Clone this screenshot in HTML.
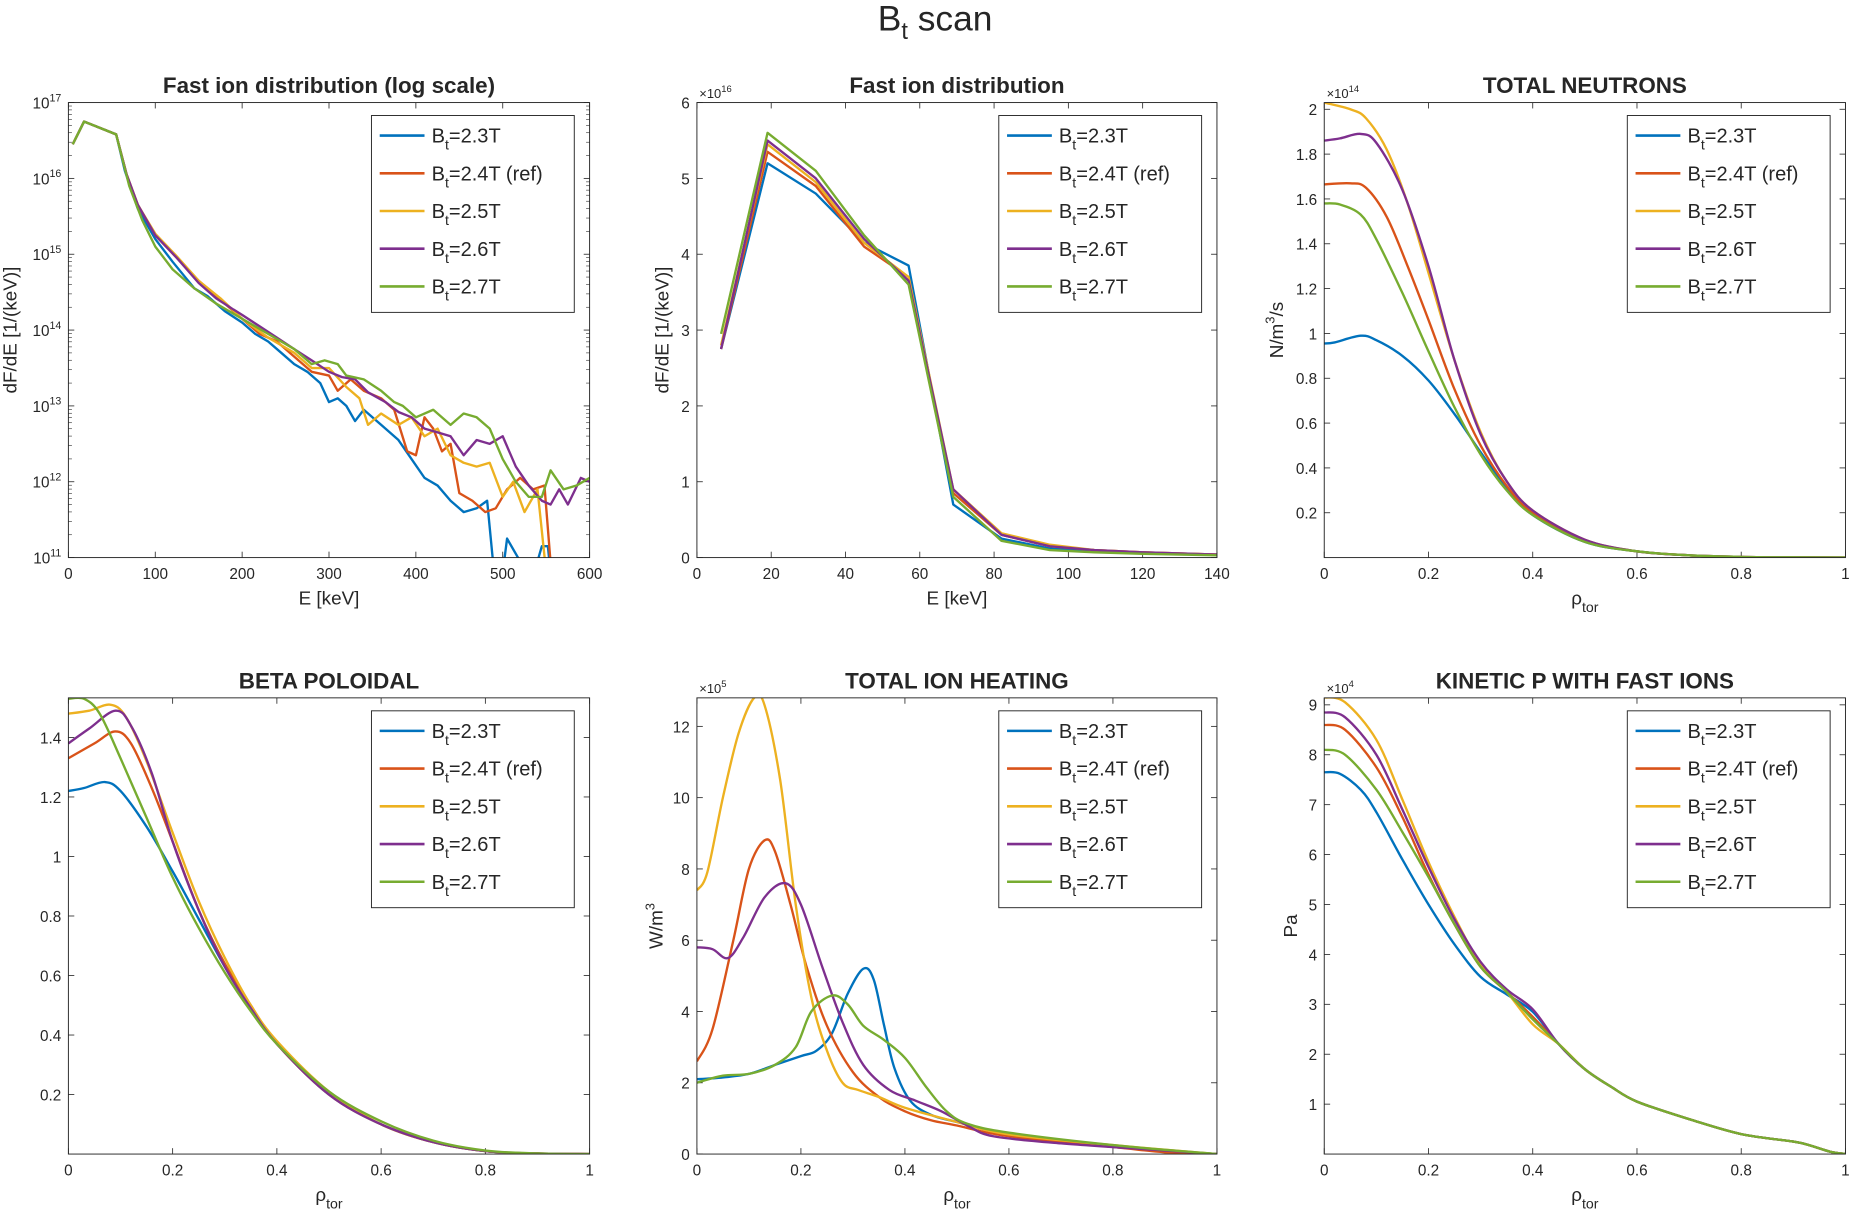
<!DOCTYPE html>
<html><head><meta charset="utf-8"><style>
html,body{margin:0;padding:0;background:#fff;}
svg{display:block;}
text{font-family:"Liberation Sans",sans-serif;fill:#262626;}
</style></head><body>
<svg id="s" width="1849" height="1213" viewBox="0 0 1568 1029" preserveAspectRatio="none" xmlns="http://www.w3.org/2000/svg">
<rect width="1568" height="1029" fill="#fff"/>
<text x="793" y="26" font-size="30" text-anchor="middle" fill="#000">B<tspan font-size="20" dy="7">t</tspan><tspan dy="-7"> scan</tspan></text>
</svg>
<script>
var S=document.getElementById('s'),NS='http://www.w3.org/2000/svg';
function el(t,a,txt){var e=document.createElementNS(NS,t);for(var k in a)e.setAttribute(k,a[k]);if(txt!=null)e.textContent=txt;S.appendChild(e);return e;}
var C=['#0072BD','#D95319','#EDB120','#7E2F8E','#77AC30'];
var LEG=['=2.3T','=2.4T (ref)','=2.5T','=2.6T','=2.7T'];
function smooth(p){ // catmull-rom
 var d='M'+p[0][0].toFixed(1)+','+p[0][1].toFixed(1);
 for(var i=0;i<p.length-1;i++){var p0=p[Math.max(0,i-1)],p1=p[i],p2=p[i+1],p3=p[Math.min(p.length-1,i+2)];
 d+=' C'+(p1[0]+(p2[0]-p0[0])/6).toFixed(1)+','+(p1[1]+(p2[1]-p0[1])/6).toFixed(1)+' '+(p2[0]-(p3[0]-p1[0])/6).toFixed(1)+','+(p2[1]-(p3[1]-p1[1])/6).toFixed(1)+' '+p2[0].toFixed(1)+','+p2[1].toFixed(1);}
 return d;}
function lin(p){return 'M'+p.map(function(q){return q[0].toFixed(1)+','+q[1].toFixed(1)}).join(' L');}
function plot(o){
 var L=o.x0,R=o.x1,T=o.y0,B=o.y1;
 var X=function(v){return L+(v-o.xmin)/(o.xmax-o.xmin)*(R-L)};
 var Y=function(v){return B-(v-o.ymin)/(o.ymax-o.ymin)*(B-T)};
 var cid='c'+Math.round(L)+'_'+Math.round(T);
 var cp=el('clipPath',{id:cid});var r=document.createElementNS(NS,'rect');r.setAttribute('x',L);r.setAttribute('y',T);r.setAttribute('width',R-L);r.setAttribute('height',B-T);cp.appendChild(r);
 // ticks
 o.xt.forEach(function(v){var x=X(v);el('line',{x1:x,y1:B,x2:x,y2:B-5,stroke:'#262626','stroke-width':0.7});el('line',{x1:x,y1:T,x2:x,y2:T+5,stroke:'#262626','stroke-width':0.7});
  el('text',{x:x,y:B+18,'font-size':13,'text-anchor':'middle'},String(v));});
 o.yt.forEach(function(v){var y=Y(v);el('line',{x1:L,y1:y,x2:L+5,y2:y,stroke:'#262626','stroke-width':0.7});el('line',{x1:R,y1:y,x2:R-5,y2:y,stroke:'#262626','stroke-width':0.7});
  if(o.log){var t=el('text',{x:L-6,y:y+5,'font-size':13,'text-anchor':'end'});t.innerHTML='10<tspan font-size="9" dy="-6">'+v+'</tspan>';}
  else el('text',{x:L-6,y:y+5,'font-size':13,'text-anchor':'end'},String(v));});
 if(o.minor){for(var d=o.ymin;d<o.ymax;d++)for(var m=2;m<10;m++){var y=Y(d+Math.log10(m));el('line',{x1:L,y1:y,x2:L+3,y2:y,stroke:'#262626','stroke-width':0.5});el('line',{x1:R,y1:y,x2:R-3,y2:y,stroke:'#262626','stroke-width':0.5});}}
 // series
 o.data.forEach(function(s,i){var p=s.map(function(q){return [X(q[0]),Y(q[1])]});
  el('path',{d:o.straight?lin(p):smooth(p),fill:'none',stroke:C[i],'stroke-width':2,'stroke-linejoin':'round','clip-path':'url(#'+cid+')'});});
 el('rect',{x:L,y:T,width:R-L,height:B-T,fill:'none',stroke:'#262626','stroke-width':0.8});
 el('text',{x:(L+R)/2,y:T-8,'font-size':19,'font-weight':'bold','text-anchor':'middle',fill:'#000'},o.title);
 if(o.exp){var t=el('text',{x:L+2,y:T-4,'font-size':11});t.innerHTML='×10<tspan font-size="8" dy="-5">'+o.exp+'</tspan>';}
 if(o.ylab){var t=el('text',{x:0,y:0,'font-size':16,'text-anchor':'middle',transform:'translate('+o.ylx+','+(T+B)/2+') rotate(-90)'});t.innerHTML=o.ylab;}
 var t=el('text',{x:(L+R)/2,y:B+40,'font-size':16,'text-anchor':'middle'});t.innerHTML=o.xlab;
 // legend
 var bx=R-185,by=T+11;
 el('rect',{x:bx,y:by,width:172,height:167,fill:'#fff',stroke:'#262626','stroke-width':0.8});
 for(var i=0;i<5;i++){var y=by+17+32*i;el('line',{x1:bx+7,y1:y,x2:bx+45,y2:y,stroke:C[i],'stroke-width':2.2});
  var t=el('text',{x:bx+51,y:y+6,'font-size':17,fill:'#000'});t.innerHTML='B<tspan font-size="12" dy="6">t</tspan><tspan dy="-6">'+LEG[i]+'</tspan>';}
}
function pr(a){var r=[];for(var i=0;i<a.length;i+=2)r.push([a[i],a[i+1]]);return r;}
var pre=[5,16.45,18,16.75,55,16.58];
var b1=pr(pre.concat([65,16.1,80,15.6,100,15.2,120,14.9,145,14.55,160,14.45,180,14.25,200,14.1,215,13.95,230,13.85,245,13.7,260,13.55,275,13.45,290,13.3,300,13.05,310,13.1,320,13.0,330,12.8,340,12.95,350,12.85,365,12.7,380,12.55,395,12.3,410,12.05,425,11.95,440,11.75,455,11.6,470,11.65,482,11.75,490,10.8,500,10.8,505,11.25,520,10.95,540,10.95,545,11.15,552,11.15,555,10.8]));
var r1=pr(pre.concat([67,16.05,80,15.65,100,15.25,125,14.95,150,14.65,175,14.4,200,14.15,220,13.95,240,13.85,260,13.65,280,13.45,300,13.4,310,13.2,325,13.35,340,13.2,360,13.1,375,12.95,390,12.4,400,12.35,410,12.85,420,12.7,430,12.4,440,12.5,450,11.85,465,11.75,480,11.6,492,11.65,505,11.9,520,12.05,535,11.9,548,11.95,556,10.8]));
var y1=pr(pre.concat([67,16.05,80,15.65,100,15.27,125,14.97,150,14.65,175,14.42,200,14.15,230,13.9,260,13.7,280,13.5,300,13.5,320,13.25,335,13.1,345,12.75,360,12.9,380,12.75,395,12.85,410,12.6,425,12.7,440,12.35,455,12.25,470,12.2,485,12.25,500,11.8,512,12.0,525,11.6,540,11.9,550,10.8]));
var p1=pr(pre.concat([67,16.05,80,15.65,100,15.25,125,14.95,150,14.62,170,14.42,190,14.27,200,14.2,220,14.05,240,13.9,260,13.75,280,13.6,300,13.45,315,13.38,330,13.35,345,13.18,365,13.05,380,12.92,395,12.85,410,12.7,425,12.65,440,12.6,455,12.35,470,12.55,485,12.5,500,12.6,515,12.2,530,11.95,545,11.75,555,11.7,565,11.9,575,11.7,590,12.05,600,12.0]));
var g1=pr(pre.concat([70,15.9,85,15.45,100,15.1,120,14.8,145,14.55,170,14.35,200,14.15,230,13.95,260,13.75,280,13.55,295,13.6,310,13.55,320,13.4,340,13.35,360,13.2,375,13.05,385,13.0,400,12.85,420,12.95,440,12.75,455,12.9,470,12.85,485,12.7,500,12.3,515,12.0,530,11.8,545,11.8,555,12.15,570,11.9,585,11.95,600,12.05]));
plot({x0:58,x1:500,y0:87,y1:473,xmin:0,xmax:600,ymin:11,ymax:17,log:true,minor:true,straight:true,xt:[0,100,200,300,400,500,600],yt:[11,12,13,14,15,16,17],title:'Fast ion distribution (log scale)',ylab:'dF/dE [1/(keV)]',ylx:14,xlab:'E [keV]',data:[b1,r1,y1,p1,g1]});
var xs=[6.5,19,32,45,57,69,82,95,107,120,140];
function z(a){return a.map(function(v,i){return [xs[i],v]});}
plot({x0:591,x1:1032,y0:87,y1:473,xmin:0,xmax:140,ymin:0,ymax:6,straight:true,xt:[0,20,40,60,80,100,120,140],yt:[0,1,2,3,4,5,6],title:'Fast ion distribution',exp:'16',ylab:'dF/dE [1/(keV)]',ylx:567,xlab:'E [keV]',data:[
z([2.75,5.2,4.8,4.15,3.85,0.7,0.25,0.12,0.08,0.06,0.04]),z([2.75,5.35,4.9,4.1,3.7,0.85,0.3,0.15,0.1,0.07,0.04]),z([2.8,5.45,4.95,4.15,3.7,0.9,0.32,0.17,0.1,0.07,0.04]),z([2.75,5.5,5.0,4.2,3.65,0.9,0.3,0.15,0.1,0.07,0.04]),z([2.95,5.6,5.1,4.25,3.6,0.8,0.22,0.1,0.07,0.05,0.03])]});
var tl=[.6,.028,.7,.01,.8,.003,.9,.001,1,0];
plot({x0:1123,x1:1565,y0:87,y1:473,xmin:0,xmax:1,ymin:0,ymax:2.03,xt:[0,0.2,0.4,0.6,0.8,1],yt:[0.2,0.4,0.6,0.8,1,1.2,1.4,1.6,1.8,2],title:'TOTAL NEUTRONS',exp:'14',ylab:'N/m<tspan font-size="11" dy="-7">3</tspan><tspan dy="7">/s</tspan>',ylx:1088,xlab:'ρ<tspan font-size="12" dy="6">tor</tspan>',data:[
pr([0,.955,.02,.96,.07,.99,.1,.97,.15,.9,.2,.79,.25,.64,.3,.47,.35,.31,.4,.19,.5,.07].concat(tl)),
pr([0,1.665,.05,1.67,.08,1.65,.12,1.52,.16,1.3,.2,1.06,.25,.75,.3,.5,.35,.32,.4,.2,.5,.075].concat(tl)),
pr([0,2.03,.05,2.0,.08,1.96,.12,1.82,.16,1.58,.2,1.27,.25,.88,.3,.56,.35,.34,.4,.21,.5,.08].concat(tl)),
pr([0,1.86,.03,1.87,.07,1.89,.1,1.85,.15,1.64,.2,1.3,.25,.88,.3,.55,.35,.34,.4,.21,.5,.08].concat(tl)),
pr([0,1.58,.03,1.575,.07,1.53,.1,1.42,.15,1.18,.2,.92,.25,.67,.3,.46,.35,.3,.4,.19,.5,.07].concat(tl))]});
var t4=[.6,.1,.7,.04,.8,.01,.9,.002,1,0];
plot({x0:58,x1:500,y0:592,y1:979,xmin:0,xmax:1,ymin:0,ymax:1.533,xt:[0,0.2,0.4,0.6,0.8,1],yt:[0.2,0.4,0.6,0.8,1,1.2,1.4],title:'BETA POLOIDAL',xlab:'ρ<tspan font-size="12" dy="6">tor</tspan>',data:[
pr([0,1.22,.03,1.23,.07,1.25,.1,1.22,.15,1.1,.2,.95,.25,.79,.3,.63,.35,.49,.4,.37,.5,.2].concat(t4)),
pr([0,1.33,.05,1.38,.09,1.42,.12,1.38,.16,1.23,.2,1.05,.25,.82,.3,.64,.35,.5,.4,.37,.5,.2].concat(t4)),
pr([0,1.48,.04,1.49,.08,1.51,.11,1.47,.15,1.32,.2,1.08,.25,.85,.3,.66,.35,.5,.4,.38,.5,.21].concat(t4)),
pr([0,1.38,.04,1.43,.09,1.49,.12,1.44,.16,1.28,.2,1.05,.25,.82,.3,.63,.35,.49,.4,.37,.5,.2].concat(t4)),
pr([0,1.53,.03,1.53,.06,1.48,.1,1.33,.15,1.13,.2,.93,.25,.76,.3,.61,.35,.48,.4,.37,.5,.21,.6,.11,.7,.045,.8,.012,.9,.002,1,0])]});
plot({x0:591,x1:1032,y0:592,y1:979,xmin:0,xmax:1,ymin:0,ymax:12.8,xt:[0,0.2,0.4,0.6,0.8,1],yt:[0,2,4,6,8,10,12],title:'TOTAL ION HEATING',exp:'5',ylab:'W/m<tspan font-size="11" dy="-7">3</tspan>',ylx:562,xlab:'ρ<tspan font-size="12" dy="6">tor</tspan>',data:[
pr([0,2.1,.05,2.15,.1,2.25,.15,2.5,.2,2.75,.23,2.9,.26,3.4,.29,4.5,.32,5.2,.34,4.9,.36,3.6,.38,2.4,.41,1.5,.45,1.1,.5,.9,.6,.55,.8,.2,1,0]),
pr([0,2.6,.03,3.5,.07,6.0,.1,8.0,.13,8.8,.15,8.5,.18,7.0,.21,5.3,.25,3.6,.3,2.3,.35,1.6,.4,1.2,.45,.95,.5,.8,.6,.5,.8,.2,.9,.05,1,0]),
pr([0,7.4,.02,7.9,.05,10.0,.08,11.8,.11,12.8,.13,12.6,.16,10.5,.19,7.0,.22,4.4,.25,2.9,.28,2.0,.31,1.8,.35,1.6,.4,1.3,.5,.9,.6,.55,.8,.25,1,0]),
pr([0,5.8,.03,5.75,.06,5.5,.09,6.1,.13,7.2,.17,7.6,.2,7.0,.24,5.3,.28,3.7,.32,2.5,.37,1.8,.42,1.5,.47,1.2,.52,.8,.57,.5,.7,.3,.9,.1,1,0]),
pr([0,2.0,.05,2.2,.1,2.25,.15,2.5,.19,3.0,.22,4.0,.26,4.45,.29,4.2,.32,3.6,.36,3.2,.4,2.7,.44,1.9,.48,1.2,.52,.85,.6,.6,.8,.25,1,0])]});
var t6=[.45,2.2,.5,1.7,.55,1.35,.6,1.05,.7,.7,.8,.4,.9,.25,.93,.18,.97,.05,1,0];
plot({x0:1123,x1:1565,y0:592,y1:979,xmin:0,xmax:1,ymin:0,ymax:9.14,xt:[0,0.2,0.4,0.6,0.8,1],yt:[1,2,3,4,5,6,7,8,9],title:'KINETIC P WITH FAST IONS',exp:'4',ylab:'Pa',ylx:1100,xlab:'ρ<tspan font-size="12" dy="6">tor</tspan>',data:[
pr([0,7.65,.03,7.62,.07,7.3,.1,6.85,.15,5.9,.2,5.0,.25,4.2,.3,3.55,.35,3.2,.4,2.85].concat(t6)),
pr([0,8.6,.04,8.5,.1,7.75,.15,6.75,.2,5.6,.25,4.6,.3,3.75,.35,3.25,.4,2.75].concat(t6)),
pr([0,9.15,.04,9.05,.1,8.3,.15,7.1,.2,5.85,.25,4.75,.3,3.8,.35,3.25,.4,2.6].concat(t6)),
pr([0,8.85,.04,8.75,.1,8.0,.15,6.9,.2,5.75,.25,4.7,.3,3.85,.35,3.3,.4,2.9].concat(t6)),
pr([0,8.1,.04,8.0,.1,7.3,.15,6.45,.2,5.55,.25,4.6,.3,3.75,.35,3.25,.4,2.7].concat(t6))]});
</script>
</body></html>
